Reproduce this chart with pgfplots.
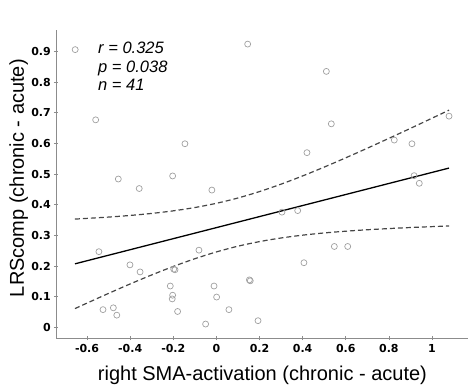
\documentclass[border=0pt]{standalone}
\usepackage{fontspec}
\setmainfont{Liberation Sans}
\newfontfamily\tickfont{DejaVu Sans}
\usepackage{pgfplots}
\pgfplotsset{compat=1.18}
\definecolor{ptgray}{RGB}{160,160,160}
\definecolor{axgray}{RGB}{140,140,140}
\definecolor{dashgray}{RGB}{70,70,70}
\begin{document}
\begin{tikzpicture}
\useasboundingbox (-56bp,-52bp) rectangle (418bp,338bp);
\begin{axis}[
  scale only axis, width=412bp, height=308bp,
  xmin=-0.744, xmax=1.167, ymin=-0.0345, ymax=0.970,
  axis x line*=bottom, axis y line*=left,
  axis line style={draw=axgray, line width=0.8bp, -},
  xtick={-0.6,-0.4,-0.2,0,0.2,0.4,0.6,0.8,1},
  ytick={0,0.1,0.2,0.3,0.4,0.5,0.6,0.7,0.8,0.9},
  tick align=center, major tick length=4bp,
  tick style={draw=axgray, line width=0.7bp},
  /pgf/number format/assume math mode=true,
  /pgf/number format/fixed,
  ticklabel style={font=\tickfont\fontsize{11bp}{13bp}\selectfont\bfseries},
  xticklabel style={inner sep=0pt, anchor=north, yshift=-4bp},
  yticklabel style={inner sep=0pt, anchor=east, xshift=-3bp},
  xlabel={right SMA-activation (chronic - acute)},
  ylabel={LRScomp (chronic - acute)},
  label style={font=\fontsize{20bp}{24bp}\selectfont, inner sep=0pt},
  xlabel style={at={(axis description cs:0.501,-0.1364)}, anchor=base},
  ylabel style={at={(axis description cs:-0.0777,0.519)}, anchor=base},
  clip=false,
]
% data points
\addplot[only marks, mark=o, mark size=3bp, mark options={draw=ptgray, line width=0.7bp}] coordinates {
(-0.655,0.906) (0.145,0.924) (-0.560,0.677) (-0.146,0.599) (-0.203,0.494)
(-0.455,0.484) (-0.358,0.453) (-0.021,0.448) (-0.545,0.247) (-0.401,0.204)
(-0.354,0.181) (-0.192,0.188) (-0.198,0.190) (-0.081,0.252) (-0.214,0.135)
(-0.203,0.105) (-0.205,0.093) (-0.180,0.052) (-0.526,0.058) (-0.478,0.064)
(-0.462,0.040) (-0.011,0.135) (0.001,0.099) (0.058,0.058) (-0.050,0.011)
(0.157,0.152) (0.153,0.155) (0.193,0.022) (0.304,0.376) (0.377,0.381)
(0.406,0.211) (0.547,0.264) (0.609,0.264) (0.917,0.495) (0.941,0.470)
(0.510,0.835) (0.533,0.664) (0.420,0.570) (0.825,0.611) (0.907,0.599)
(1.079,0.689)
};
% regression line
\addplot[black, line width=1.3bp] coordinates {(-0.656,0.2074) (1.079,0.5197)};
% upper confidence band
\addplot[dashgray, line width=1.2bp, dash pattern=on 5bp off 3bp, smooth] coordinates {
(-0.656,0.3533) (-0.5,0.3599) (-0.4,0.3652) (-0.3,0.3718) (-0.2,0.3802)
(-0.1,0.3910) (0,0.4048) (0.1,0.4221) (0.2,0.4431) (0.3,0.4673)
(0.4,0.4941) (0.5,0.5229) (0.6,0.5532) (0.7,0.5845) (0.8,0.6166)
(0.9,0.6492) (1.0,0.6823) (1.079,0.7086)
};
% lower confidence band
\addplot[dashgray, line width=1.2bp, dash pattern=on 5bp off 3bp, smooth] coordinates {
(-0.656,0.0615) (-0.5,0.1111) (-0.4,0.1418) (-0.3,0.1712) (-0.2,0.1988)
(-0.1,0.2240) (0,0.2462) (0.1,0.2649) (0.2,0.2799) (0.3,0.2917)
(0.4,0.3009) (0.5,0.3081) (0.6,0.3138) (0.7,0.3185) (0.8,0.3224)
(0.9,0.3258) (1.0,0.3287) (1.079,0.3308)
};
\node[anchor=north west, inner sep=0pt, align=left, font=\fontsize{16.5bp}{18.5bp}\selectfont\itshape]
  at (axis cs:-0.549,0.931) {r = 0.325\\p = 0.038\\n = 41};
\end{axis}
\end{tikzpicture}
\end{document}
